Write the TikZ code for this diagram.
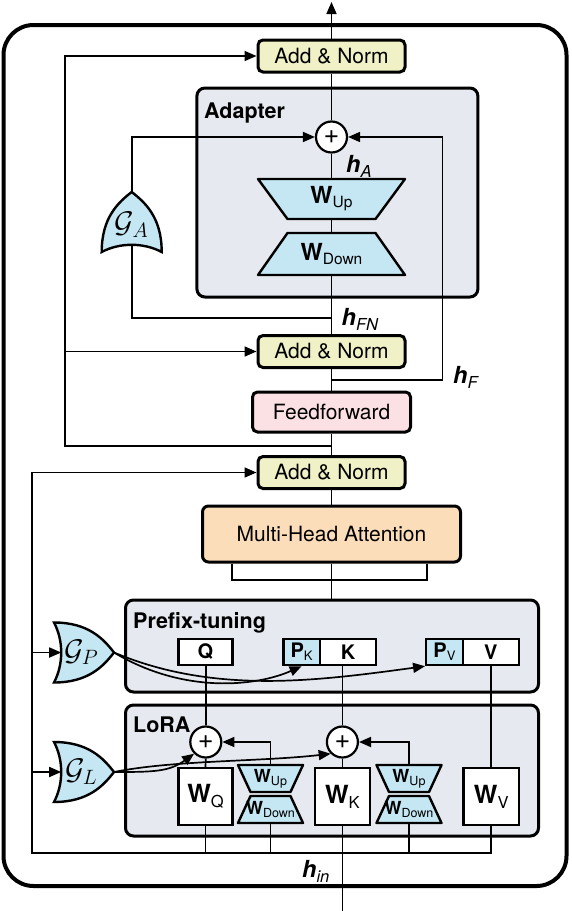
\documentclass[tikz,border=0pt]{standalone}
\usepackage{fontspec}
\setmainfont{TeX Gyre Heros}
\usetikzlibrary{arrows.meta,calc}
\definecolor{anfill}{RGB}{241,241,199}
\definecolor{fffill}{RGB}{251,225,228}
\definecolor{mhafill}{RGB}{252,221,185}
\definecolor{modfill}{RGB}{230,234,240}
\definecolor{bluefill}{RGB}{197,230,243}
\newcommand\msub[5]{{\fontsize{#1}{#1}\selectfont\bfseries #4}{\fontsize{#2}{#2}\selectfont\mdseries\raisebox{-#3pt}{#5}}}
\newcommand\hlbl[1]{{\fontsize{23.5}{23.5}\selectfont\bfseries\itshape h}{\fontsize{16.5}{16.5}\selectfont\mdseries\itshape\raisebox{-5pt}{#1}}}
\newcommand\glbl[1]{\scalebox{1.2}{$\mathcal{G}_{#1}$}}
\newcommand\mytrap[7]{%
  \draw[trapstyle] ({#2-#5},#3) -- ({#2+#5},#3) -- ({#2+#6},#4) -- ({#2-#6},#4) -- cycle;
  \coordinate (#1-n) at (#2,#3);
  \coordinate (#1-s) at (#2,#4);
  \node[inner sep=0pt] (#1) at (#2,{(#3+#4)/2}) {#7};}
\newcommand\mygate[5]{%
  \begin{scope}[shift={(#2,#3)},rotate=#4,scale=30]
    \draw[gatestyle] (-1,1) .. controls (0.15,1) and (0.65,0.45) .. (1,0)
      .. controls (0.65,-0.45) and (0.15,-1) .. (-1,-1)
      .. controls (-0.68,-0.4) and (-0.68,0.4) .. (-1,1) -- cycle;
    \coordinate (#1-out) at (1,0);
    \coordinate (#1-in) at (-0.76,0);
  \end{scope}
  \node[gatelabel] (#1) at ($(#1-in)!0.38!(#1-out)$) {#5};}
\tikzset{
  conn/.style={line width=1.7pt},
  arr/.style={conn,-{Triangle[length=12pt,width=10pt]}},
  anbox/.style={draw,line width=3pt,rounded corners=5pt,fill=anfill,minimum width=147pt,minimum height=32pt,inner sep=0pt,font=\fontsize{21}{24}\selectfont},
  ffbox/.style={draw,line width=3pt,rounded corners=5pt,fill=fffill,minimum width=158pt,minimum height=40pt,inner sep=0pt,font=\fontsize{21}{24}\selectfont},
  mhabox/.style={draw,line width=3pt,rounded corners=6pt,fill=mhafill,minimum width=258pt,minimum height=56pt,inner sep=0pt,font=\fontsize{21}{24}\selectfont},
  modbox/.style={draw,line width=3pt,rounded corners=8pt,fill=modfill,inner sep=0pt},
  modtitle/.style={inner sep=0pt,anchor=base west,font=\fontsize{21.5}{22}\selectfont\bfseries},
  plus/.style={draw,circle,fill=white,line width=2.2pt,minimum size=31pt,inner sep=0pt,font=\fontsize{27}{27}\selectfont},
  trapstyle/.style={draw,fill=bluefill,line width=2.4pt,line join=round},
  gatestyle/.style={draw,fill=bluefill,line width=2.4pt},
  gatelabel/.style={inner sep=0pt,font=\fontsize{24}{24}\selectfont},
  wbox/.style={draw,fill=white,line width=2.4pt,inner sep=0pt,font=\fontsize{20}{20}\selectfont\bfseries},
  hlabel/.style={inner sep=0pt,anchor=base west}
}
\begin{document}
\begin{tikzpicture}[x=1pt,y=-1pt]
\useasboundingbox (0,0) rectangle (572,911);
% frame
\node[draw,line width=4pt,rounded corners=30pt,minimum width=563pt,minimum height=861pt,inner sep=0pt] (frame) at (285,455.5) {};
% module boxes
\node[modbox,minimum width=281pt,minimum height=209pt] (adapter) at (337.4,192.5) {};
\node[modbox,minimum width=413pt,minimum height=92pt] (prefix) at (332,646) {};
\node[modbox,minimum width=413pt,minimum height=131pt] (lora) at (332,770.5) {};
\node[modtitle] (tA) at (204,118) {Adapter};
\node[modtitle] (tP) at (133,628) {Prefix-tuning};
\node[modtitle] (tL) at (133,732) {LoRA};
% main column
\node[anbox] (an1) at (331.5,56) {Add \& Norm};
\node[anbox] (an2) at (331.5,351.5) {Add \& Norm};
\node[anbox] (an3) at (331.5,472.5) {Add \& Norm};
\node[ffbox] (ff) at (331.5,412) {Feedforward};
\node[mhabox] (mha) at (331.5,534) {Multi-Head Attention};
\node[plus] (c1) at (331.5,137) {+};
\node[plus] (c2) at (205.8,742) {+};
\node[plus] (c3) at (342.4,742) {+};
% adapter trapezoids
\mytrap{wup}{331.5}{179}{219}{73.5}{44}{\msub{23.5}{15.5}{4}{W}{Up}}
\mytrap{wdown}{331.5}{233}{275}{44}{73.5}{\msub{23.5}{15.5}{4}{W}{Down}}
% lora trapezoids
\mytrap{lup}{270.5}{765}{792}{32.5}{20}{\msub{18}{12.5}{3}{W}{Up}}
\mytrap{ldown}{270.5}{796}{823}{20}{32.5}{\msub{18}{12.5}{3}{W}{Down}}
\mytrap{rup}{409}{765}{792}{32.5}{20}{\msub{18}{12.5}{3}{W}{Up}}
\mytrap{rdown}{409}{796}{823}{20}{32.5}{\msub{18}{12.5}{3}{W}{Down}}
% prefix boxes
\node[wbox,minimum width=54pt,minimum height=26pt] (q) at (205.5,652) {Q};
\node[wbox,fill=bluefill,minimum width=36.5pt,minimum height=26pt] (pk) at (301.6,652) {\msub{20}{13}{3}{P}{K}};
\node[wbox,minimum width=56pt,minimum height=26pt] (k) at (348,652) {K};
\node[wbox,fill=bluefill,minimum width=36.5pt,minimum height=26pt] (pv) at (444.5,652) {\msub{20}{13}{3}{P}{V}};
\node[wbox,minimum width=56.4pt,minimum height=26pt] (v) at (490.9,652) {V};
% lora weight boxes
\node[wbox,minimum width=54pt,minimum height=57pt] (wq) at (205.5,796.5) {\msub{25}{16.5}{5}{W}{Q}};
\node[wbox,minimum width=55pt,minimum height=57pt] (wk) at (342.4,796.5) {\msub{25}{16.5}{5}{W}{K}};
\node[wbox,minimum width=55.6pt,minimum height=57pt] (wv) at (491.2,796.5) {\msub{25}{16.5}{5}{W}{V}};
% gates
\mygate{gA}{131.7}{222}{90}{\glbl{A}}
\mygate{gP}{84}{652.5}{0}{\glbl{P}}
\mygate{gL}{84}{772}{0}{\glbl{L}}
% labels
\node[hlabel] (hA) at (346,172) {\hlbl{A}};
\node[hlabel] (hFN) at (341.5,325) {\hlbl{FN}};
\node[hlabel] (hF) at (453,383) {\hlbl{F}};
\node[hlabel] (hIN) at (302,877) {\hlbl{in}};
% coordinates
\coordinate (topout) at (331.5,2);
\coordinate (hFNj) at (331.5,318);
\coordinate (hFj) at (331.5,380);
\coordinate (rR) at (442.6,380);
\coordinate (ffj) at (331.5,446);
\coordinate (topL) at (64.8,446);
\coordinate (botL) at (32,853);
\coordinate (mhaL) at (232,580);
\coordinate (mhaR) at (426.7,580);
\coordinate (hin) at (342.4,911);
% connectors
\draw[arr] (an1.north) -- (topout);
\draw[conn] (c1.north) -- (an1.south);
\draw[conn] (wup-n) -- (c1.south);
\draw[conn] (wdown-n) -- (wup-s);
\draw[conn] (an2.north) -- (wdown-s);
\draw[conn] (ff.north) -- (an2.south);
\draw[conn] (an3.north) -- (ff.south);
\draw[conn] (mha.north) -- (an3.south);
\draw[conn] (mha.south) -- (mha.south |- prefix.north);
\draw[conn] (mhaL |- mha.south) -- (mhaL) -- (mhaR) -- (mhaR |- mha.south);
\draw[arr] (gA-out) |- (c1.west);
\draw[conn] (gA-in) |- (hFNj);
\draw[arr] (hFj) -- (rR) |- (c1.east);
\draw[arr] (ffj) -- (topL) |- (an1.west);
\draw[arr] (topL |- an2.west) -- (an2.west);
\draw[arr] (wv.south) |- (botL) |- (an3.west);
\draw[conn] (wq.south) -- (wq.south |- botL);
\draw[conn] (ldown-s) -- (ldown-s |- botL);
\draw[conn] (rdown-s) -- (rdown-s |- botL);
\draw[conn] (hin) -- (wk.south);
\draw[conn] (wk.north) -- (c3.south);
\draw[conn] (c3.north) -- (c3.north |- k.south);
\draw[conn] (wq.north) -- (c2.south);
\draw[conn] (c2.north) -- (c2.north |- q.south);
\draw[conn] (wv.north) -- (wv.north |- v.south);
\draw[arr] (lup-n) |- (c2.east);
\draw[arr] (rup-n) |- (c3.east);
\draw[arr] (botL |- gP-in) -- (gP-in);
\draw[arr] (botL |- gL-in) -- (gL-in);
\draw[arr] (gP-out) .. controls +(70,42) and +(-45,20) .. (pk.south);
\draw[arr] (gP-out) .. controls +(100,42) and +(-110,15) .. (pv.south west);
\draw[arr] (gL-out) .. controls +(40,0) and +(-25,18) .. (c2.south west);
\draw[arr] (gL-out) .. controls +(60,-12) and +(-70,8) .. (c3.south west);
\end{tikzpicture}
\end{document}
